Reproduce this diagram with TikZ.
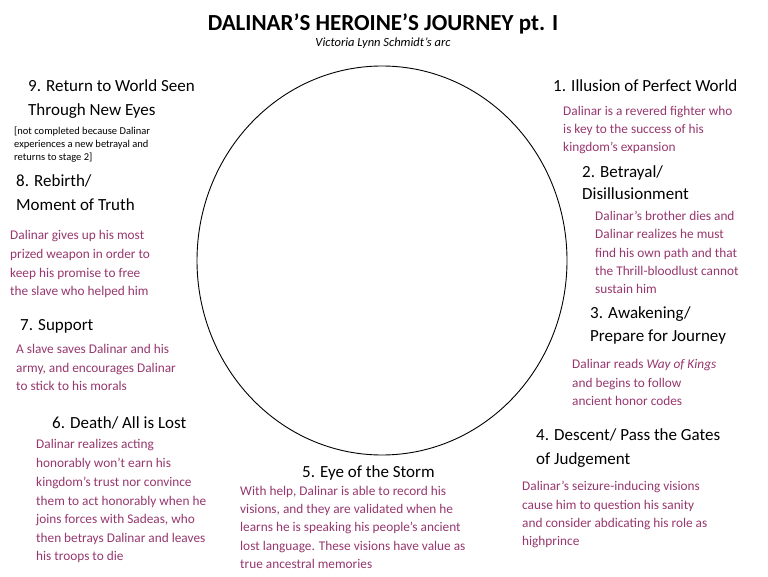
\documentclass[tikz,border=0pt]{standalone}
\usepackage{fontspec}
\setmainfont{Carlito}
\definecolor{pk}{RGB}{150,55,110}
\begin{document}
\begin{tikzpicture}[x=1pt,y=-1pt,
 h/.style={anchor=base west,inner sep=0pt,font=\fontsize{17}{17}\selectfont},
 p/.style={anchor=base west,inner sep=0pt,text=pk,font=\fontsize{13.3}{13}\selectfont},
 s/.style={anchor=base west,inner sep=0pt,font=\fontsize{10.5}{10}\selectfont}]
\useasboundingbox (0,0) rectangle (768,577);
\node[inner sep=0pt,font=\fontsize{23}{23}\selectfont\bfseries,anchor=base] (t) at (383,31) {DALINAR’S HEROINE’S JOURNEY pt. I};
\node[inner sep=0pt,font=\fontsize{12.5}{12}\selectfont\itshape,anchor=base] (st) at (383,47) {Victoria Lynn Schmidt’s arc};
\draw[line width=0.9pt] (382,260.5) ellipse [x radius=185,y radius=194.5];
% left
\node[h] (n9a) at (28,92) {9. Return to World Seen};
\node[h] (n9b) at (28,116) {Through New Eyes};
\node[s] (b1) at (14,135) {[not completed because Dalinar};
\node[s] (b2) at (14,148) {experiences a new betrayal and};
\node[s] (b3) at (14,161) {returns to stage 2]};
\node[h] (n8a) at (16,187) {8. Rebirth/};
\node[h] (n8b) at (16,211) {Moment of Truth};
\node[p] (p8a) at (10,240) {Dalinar gives up his most};
\node[p] (p8b) at (10,259) {prized weapon in order to};
\node[p] (p8c) at (10,277) {keep his promise to free};
\node[p] (p8d) at (10,295) {the slave who helped him};
\node[h] (n7) at (20,330) {7. Support};
\node[p] (p7a) at (16,353) {A slave saves Dalinar and his};
\node[p] (p7b) at (16,372) {army, and encourages Dalinar};
\node[p] (p7c) at (16,390) {to stick to his morals};
\node[h] (n6) at (52,428) {6. Death/ All is Lost};
\node[p] (p6a) at (36,448) {Dalinar realizes acting};
\node[p] (p6b) at (36,467) {honorably won’t earn his};
\node[p] (p6c) at (36,486) {kingdom’s trust nor convince};
\node[p] (p6d) at (36,505) {them to act honorably when he};
\node[p] (p6e) at (36,523) {joins forces with Sadeas, who};
\node[p] (p6f) at (36,542) {then betrays Dalinar and leaves};
\node[p] (p6g) at (36,560) {his troops to die};
% bottom
\node[h] (n5) at (302,477) {5. Eye of the Storm};
\node[p] (p5a) at (240,495) {With help, Dalinar is able to record his};
\node[p] (p5b) at (240,513) {visions, and they are validated when he};
\node[p] (p5c) at (240,531) {learns he is speaking his people’s ancient};
\node[p] (p5d) at (240,550) {lost language. These visions have value as};
\node[p] (p5e) at (240,568) {true ancestral memories};
% right
\node[h] (n1) at (553,92) {1. Illusion of Perfect World};
\node[p] (p1a) at (563,116) {Dalinar is a revered fighter who};
\node[p] (p1b) at (563,134) {is key to the success of his};
\node[p] (p1c) at (563,152) {kingdom’s expansion};
\node[h] (n2a) at (582,178) {2. Betrayal/};
\node[h] (n2b) at (582,200) {Disillusionment};
\node[p] (p2a) at (595,221) {Dalinar’s brother dies and};
\node[p] (p2b) at (595,239) {Dalinar realizes he must};
\node[p] (p2c) at (595,258) {find his own path and that};
\node[p] (p2d) at (595,276) {the Thrill-bloodlust cannot};
\node[p] (p2e) at (595,294) {sustain him};
\node[h] (n3a) at (590,318) {3. Awakening/};
\node[h] (n3b) at (590,341) {Prepare for Journey};
\node[p] (p3a) at (572,368) {Dalinar reads \textit{Way of Kings}};
\node[p] (p3b) at (572,387) {and begins to follow};
\node[p] (p3c) at (572,405) {ancient honor codes};
\node[h] (n4a) at (536,440) {4. Descent/ Pass the Gates};
\node[h] (n4b) at (536,464) {of Judgement};
\node[p] (p4a) at (522,490) {Dalinar’s seizure-inducing visions};
\node[p] (p4b) at (522,509) {cause him to question his sanity};
\node[p] (p4c) at (522,527) {and consider abdicating his role as};
\node[p] (p4d) at (522,545) {highprince};
\end{tikzpicture}
\end{document}
